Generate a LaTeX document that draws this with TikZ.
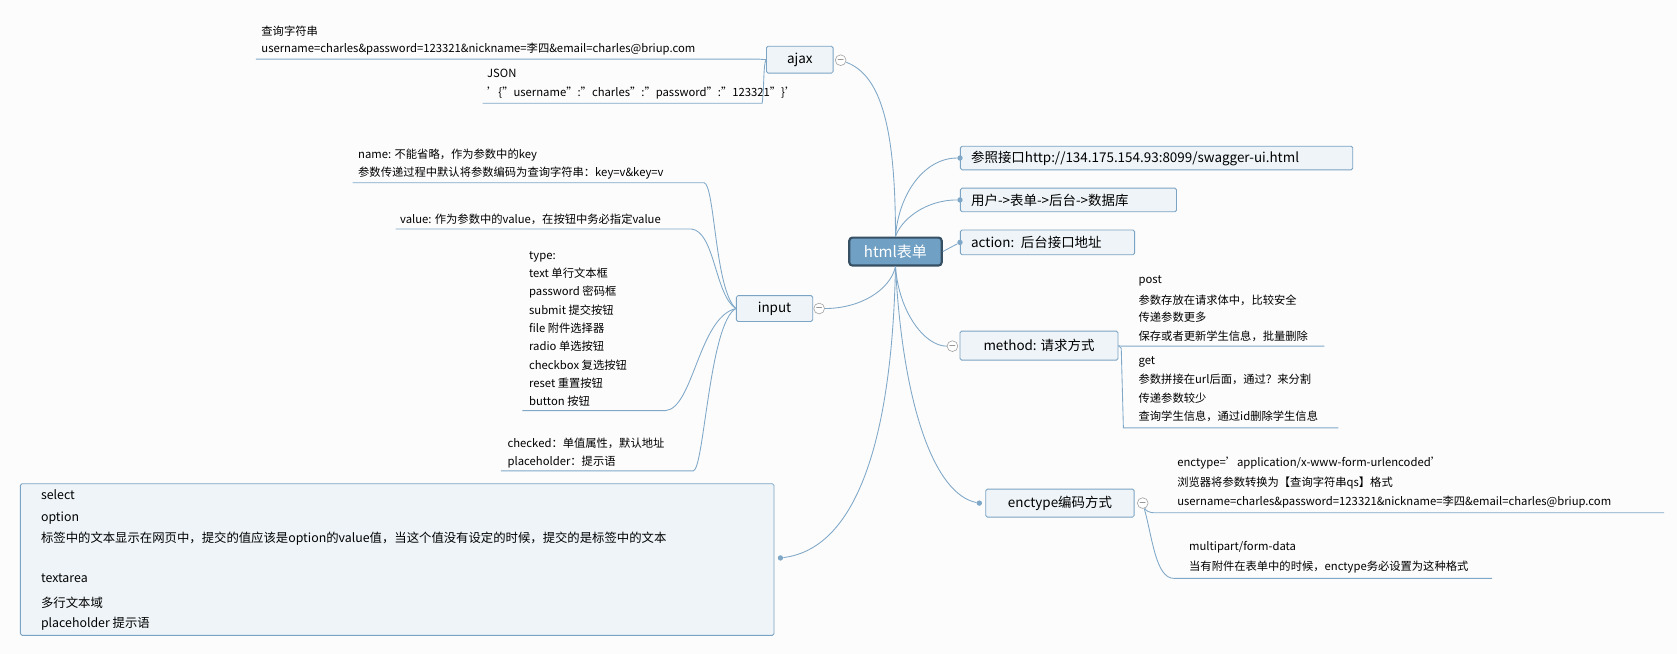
\documentclass[tikz,border=0pt]{standalone}
\usepackage{fontspec}
\setmainfont{Noto Sans CJK SC}
\begin{document}
\begin{tikzpicture}[x=1pt,y=-1pt,
  ln/.style={draw=lc,line width=0.8pt},
  bx/.style={draw=bc,fill=bf,rounded corners=1.5pt,line width=0.8pt,inner sep=0pt,font=\fontsize{12.5}{14}\selectfont},
  lf/.style={anchor=base west,inner sep=0pt,font=\fontsize{10.5}{12}\selectfont},
  cir/.style={circle,draw=gray!70,fill=white,minimum size=10pt,inner sep=0pt,line width=0.6pt,font=\fontsize{9}{9}\selectfont},
  dot/.style={circle,fill=lc,minimum size=5pt,inner sep=0pt}]
\definecolor{lc}{HTML}{7FA7C8}\definecolor{bc}{HTML}{7BA3C4}\definecolor{bf}{HTML}{EEF4F8}
\fill[fill={rgb,255:red,252;green,252;blue,252}] (0,0) rectangle (1560,608);
\useasboundingbox (0,0) rectangle (1560,608);
% center
\node[draw={rgb,255:red,55;green,80;blue,100},fill={rgb,255:red,112;green,160;blue,196},line width=2pt,rounded corners=3pt,minimum width=86pt,minimum height=26pt,text=white,font=\fontsize{14}{16}\selectfont] (c) at (833,234) {html表单};
% boxes
\node[bx,minimum width=62pt,minimum height=25pt] (ajax) at (744,55.5) {ajax};
\node[cir] (ajc) at (782,56) {$-$};
\node[bx,minimum width=71pt,minimum height=24pt] (inp) at (720.5,287) {input};
\node[cir] (inc) at (762,287) {$-$};
\node[bx,minimum width=365pt,minimum height=22pt,anchor=west,text width=345pt,align=left] (r1) at (893,147) {参照接口http://134.175.154.93:8099/swagger-ui.html};
\node[bx,minimum width=201pt,minimum height=22pt,anchor=west,text width=181pt,align=left] (r2) at (893,186) {用户->表单->后台->数据库};
\node[bx,minimum width=162pt,minimum height=23pt,anchor=west,text width=142pt,align=left] (r3) at (893,225.5) {action: 后台接口地址};
\node[bx,minimum width=147pt,minimum height=27pt] (meth) at (966.5,321.5) {method: 请求方式};
\node[cir] (mc) at (886,322) {$-$};
\node[bx,minimum width=138pt,minimum height=26pt] (enc) at (986,468) {enctype编码方式};
\node[cir] (ec) at (1063,468) {$-$};
\node[bx,minimum width=701pt,minimum height=141pt] (sel) at (369.5,520.5) {};
\node[dot] (d1) at (893,147) {};
\node[dot] (d2) at (893,186) {};
\node[dot] (d3) at (893,225.5) {};
\node[dot] (d5) at (911,468) {};
\node[dot] (d6) at (726,519) {};
% center connectors
\draw[ln] (c.north) .. controls (833,120) and (820,70) .. (ajc);
\draw[ln] (c.north) .. controls (836,180) and (860,147) .. (d1);
\draw[ln] (c.north) .. controls (838,205) and (860,186) .. (d2);
\draw[ln] (c.east) -- (d3);
\draw[ln] (c.south) .. controls (828,270) and (800,287) .. (inc);
\draw[ln] (c.south) .. controls (836,290) and (860,322) .. (mc);
\draw[ln] (c.south) .. controls (840,380) and (870,460) .. (d5);
\draw[ln] (c.south) .. controls (830,400) and (800,510) .. (d6);
% ajax leaves
\node[lf] (a1) at (243,33) {查询字符串};
\node[lf] (a2) at (243,49) {username=charles\&password=123321\&nickname=李四\&email=charles@briup.com};
\coordinate (a1e) at (706,55);
\draw[ln] (238,55) -- (a1e) -- (ajax.west);
\node[lf] (j1) at (453,72) {JSON};
\node[lf] (j2) at (453,90) {'\{"username":"charles":"password":"123321"\}'};
\coordinate (a2e) at (709,96);
\draw[ln] (449,96) -- (a2e) .. controls (711,80) and (710,60) .. (ajax.west);
% input leaves
\node[lf] at (333,147) {name: 不能省略，作为参数中的key};
\node[lf] at (333,164) {参数传递过程中默认将参数编码为查询字符串：key=v\&key=v};
\draw[ln] (328,170) -- (655,170) .. controls (665,172) and (665,270) .. (inp.west);
\node[lf] at (372,208) {value: 作为参数中的value，在按钮中务必指定value};
\draw[ln] (368,213) -- (643,213) .. controls (665,215) and (665,275) .. (inp.west);
\foreach \t [count=\i] in {type:,text 单行文本框,password 密码框,submit 提交按钮,file 附件选择器,radio 单选按钮,checkbox 复选按钮,reset 重置按钮,button 按钮}
  \node[lf] at (492,241+17.05*\i-17.05) {\t};
\draw[ln] (486,382) -- (619,382) .. controls (645,380) and (650,295) .. (inp.west);
\node[lf] at (472,416) {checked：单值属性，默认地址};
\node[lf] at (472,433) {placeholder：提示语};
\draw[ln] (466,438) -- (645,438) .. controls (655,436) and (660,300) .. (inp.west);
% select text
\node[lf,font=\fontsize{11.5}{13}\selectfont] at (38,465) {select};
\node[lf,font=\fontsize{11.5}{13}\selectfont] at (38,485) {option};
\node[lf,font=\fontsize{11.5}{13}\selectfont] at (38,505) {标签中的文本显示在网页中，提交的值应该是option的value值，当这个值没有设定的时候，提交的是标签中的文本};
\node[lf,font=\fontsize{11.5}{13}\selectfont] at (38,542) {textarea};
\node[lf,font=\fontsize{11.5}{13}\selectfont] at (38,565) {多行文本域};
\node[lf,font=\fontsize{11.5}{13}\selectfont] at (38,584) {placeholder 提示语};
% method leaves
\node[lf] at (1059,264) {post};
\node[lf] at (1059,283) {参数存放在请求体中，比较安全};
\node[lf] at (1059,299) {传递参数更多};
\node[lf] at (1059,317) {保存或者更新学生信息，批量删除};
\draw[ln] (meth.east) -- (1043,322) -- (1232,322);
\node[lf] at (1059,339) {get};
\node[lf] at (1059,357) {参数拼接在url后面，通过？来分割};
\node[lf] at (1059,374) {传递参数较少};
\node[lf] at (1059,391) {查询学生信息，通过id删除学生信息};
\draw[ln] (meth.east) -- (1043,324) -- (1045,398) -- (1245,398);
% enctype leaves
\node[lf] at (1095,434) {enctype='application/x-www-form-urlencoded'};
\node[lf] at (1095,453) {浏览器将参数转换为【查询字符串qs】格式};
\node[lf] at (1095,470) {username=charles\&password=123321\&nickname=李四\&email=charles@briup.com};
\draw[ln] (ec) .. controls (1066,475) and (1068,477) .. (1075,477) -- (1548,477);
\node[lf] at (1106,512) {multipart/form-data};
\node[lf] at (1106,531) {当有附件在表单中的时候，enctype务必设置为这种格式};
\draw[ln] (ec) .. controls (1072,500) and (1075,538) .. (1092,538) -- (1388,538);
\end{tikzpicture}
\end{document}
